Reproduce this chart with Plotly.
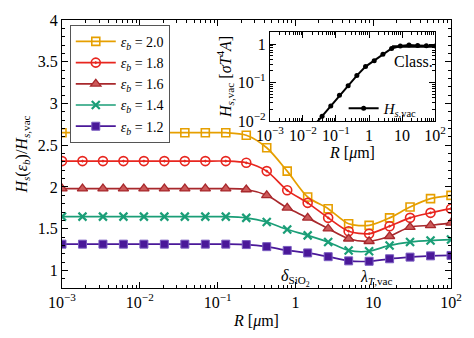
import plotly.graph_objects as go

# Radius grid (micrometres)
R = [0.001, 0.001833, 0.00336, 0.006158, 0.01129, 0.02069, 0.03793, 0.06952,
     0.1274, 0.2336, 0.4281, 0.7848, 1.438, 2.637, 4.833, 8.859, 16.24,
     29.76, 54.56, 100.0]

eps20 = [2.65, 2.65, 2.65, 2.65, 2.65, 2.65, 2.65, 2.65, 2.65, 2.62, 2.47,
         2.19, 1.88, 1.74, 1.56, 1.54, 1.63, 1.76, 1.86, 1.90]
eps18 = [2.31, 2.31, 2.31, 2.31, 2.31, 2.31, 2.31, 2.31, 2.31, 2.29, 2.19,
         1.96, 1.81, 1.63, 1.47, 1.44, 1.53, 1.63, 1.69, 1.74]
eps16 = [1.98, 1.98, 1.98, 1.98, 1.98, 1.98, 1.98, 1.98, 1.98, 1.97, 1.90,
         1.75, 1.63, 1.50, 1.38, 1.35, 1.41, 1.52, 1.54, 1.57]
eps14 = [1.645, 1.645, 1.645, 1.645, 1.645, 1.645, 1.645, 1.645, 1.645, 1.63,
         1.58, 1.49, 1.42, 1.34, 1.24, 1.23, 1.30, 1.34, 1.36, 1.37]
eps12 = [1.315, 1.315, 1.315, 1.315, 1.315, 1.315, 1.315, 1.315, 1.315, 1.31,
         1.285, 1.24, 1.21, 1.165, 1.115, 1.11, 1.14, 1.16, 1.175, 1.18]

# Inset: vacuum heat flux
R_inset = R[5:]
hvac = [0.0072, 0.0133, 0.0246, 0.0465, 0.083, 0.152, 0.26, 0.37, 0.55,
        0.77, 0.90, 0.95, 0.93, 0.91, 0.90]
R_class = [5.0, 100.0]
h_class = [0.87, 0.87]

labels = ["2.0", "1.8", "1.6", "1.4", "1.2"]
x_tickvals = [1e-3, 1e-2, 1e-1, 1, 10, 100]
x_ticktext = ["10<sup>−3</sup>", "10<sup>−2</sup>", "10<sup>−1</sup>", "1", "10", "10<sup>2</sup>"]
y_tickvals = [1, 1.5, 2, 2.5, 3, 3.5, 4]
y_ticktext = ["1", "1.5", "2", "2.5", "3", "3.5", "4"]
yi_tickvals = [0.01, 0.1, 1]
yi_ticktext = ["10<sup>−2</sup>", "10<sup>−1</sup>", "1"]

FONT = "Liberation Serif"

styles = [
    dict(color="#e69f00", marker=dict(symbol="square-open", size=8, color="#e69f00",
                                       line=dict(width=1.6, color="#e69f00"))),
    dict(color="#e8261f", marker=dict(symbol="circle-open-dot", size=9, color="#e8261f",
                                       line=dict(width=1.6, color="#e8261f"))),
    dict(color="#a8282c", marker=dict(symbol="triangle-up", size=9, color="#cc5a5a",
                                       line=dict(width=1.3, color="#a8282c"))),
    dict(color="#1a9e77", marker=dict(symbol="x-thin", size=8, color="#1a9e77",
                                       line=dict(width=2.2, color="#1a9e77"))),
    dict(color="#4a1899", marker=dict(symbol="square", size=8, color="#4a1899",
                                       line=dict(width=1, color="#7a5cc0"))),
]

fig = go.Figure()
for ys, lab, st in zip([eps20, eps18, eps16, eps14, eps12], labels, styles):
    fig.add_trace(go.Scatter(
        x=R, y=ys, mode="lines+markers",
        name="<i>ε</i><sub><i>b</i></sub> = " + lab,
        line=dict(color=st["color"], width=1.7, shape="spline", smoothing=0.8),
        marker=st["marker"], xaxis="x", yaxis="y", legend="legend",
    ))

fig.add_trace(go.Scatter(
    x=R_inset, y=hvac, mode="lines+markers",
    name="<i>H</i><sub><i>s</i>,vac</sub>",
    line=dict(color="black", width=2),
    marker=dict(symbol="circle", size=5, color="black"),
    xaxis="x2", yaxis="y2", legend="legend2",
))
fig.add_trace(go.Scatter(
    x=R_class, y=h_class, mode="lines", showlegend=False,
    line=dict(color="black", width=2.5),
    xaxis="x2", yaxis="y2",
))

axis_common = dict(
    showline=True, linecolor="black", linewidth=1, mirror="ticks",
    ticks="inside", ticklen=6, tickcolor="black", showgrid=False, zeroline=False,
    tickfont=dict(family=FONT, size=16, color="black"),
)

fig.update_layout(
    width=474, height=338,
    margin=dict(l=62, r=21, t=15, b=46),
    paper_bgcolor="white", plot_bgcolor="white",
    font=dict(family=FONT, size=16, color="black"),
    xaxis=dict(type="log", range=[-3, 2], tickvals=x_tickvals, ticktext=x_ticktext,
               domain=[0, 1],
               title=dict(text="<i>R</i> [<i>μ</i>m]", standoff=4,
                          font=dict(family=FONT, size=16)),
               minor=dict(ticks="inside", ticklen=3, tickcolor="black",
                          tickvals=[m * 10 ** e for e in range(-3, 2) for m in range(2, 10)]),
               **axis_common),
    yaxis=dict(range=[0.79, 4.0], tickvals=y_tickvals, ticktext=y_ticktext,
               domain=[0, 1],
               title=dict(text="<i>H</i><sub><i>s</i></sub>(<i>ε</i><sub><i>b</i></sub>)/<i>H</i><sub><i>s</i>,vac</sub>",
                          standoff=6, font=dict(family=FONT, size=16)),
               minor=dict(ticks="inside", ticklen=3, tickcolor="black", dtick=0.1),
               **axis_common),
    xaxis2=dict(type="log", range=[-3, 2], tickvals=x_tickvals, ticktext=x_ticktext,
                domain=[0.5345, 0.959], anchor="y2",
                title=dict(text="<i>R</i> [<i>μ</i>m]", standoff=2,
                           font=dict(family=FONT, size=16)),
                minor=dict(ticks="inside", ticklen=3, tickcolor="black",
                           tickvals=[m * 10 ** e for e in range(-3, 2) for m in range(2, 10)]),
                **axis_common),
    yaxis2=dict(type="log", range=[-2, 0.32], tickvals=yi_tickvals, ticktext=yi_ticktext,
                domain=[0.6235, 0.9556], anchor="x2",
                title=dict(text="<i>H</i><sub><i>s</i>,vac</sub> [<i>σT</i><sup>4</sup><i>A</i>]",
                           standoff=2, font=dict(family=FONT, size=16)),
                minor=dict(ticks="inside", ticklen=3, tickcolor="black",
                           tickvals=[m * 10 ** e for e in range(-2, 1) for m in range(2, 10)]),
                **axis_common),
    legend=dict(x=0.02, y=0.982, xanchor="left", yanchor="top",
                bgcolor="white", bordercolor="#555555", borderwidth=1,
                font=dict(family=FONT, size=14), itemwidth=40, tracegroupgap=0),
    legend2=dict(x=0.724, y=0.67, xanchor="left", yanchor="middle",
                 bgcolor="rgba(0,0,0,0)", borderwidth=0,
                 font=dict(family=FONT, size=15), itemwidth=30),
    annotations=[
        dict(x=-0.21, y=0.91, xref="x", yref="y", text="<i>δ</i><sub>SiO<sub>2</sub></sub>",
             showarrow=False, xanchor="left", yanchor="middle",
             font=dict(family=FONT, size=16)),
        dict(x=0.81, y=0.91, xref="x", yref="y", text="<i>λ</i><sub><i>T</i>,vac</sub>",
             showarrow=False, xanchor="left", yanchor="middle",
             font=dict(family=FONT, size=16)),
        dict(x=2, y=-0.45, xref="x2", yref="y2", text="Class.",
             showarrow=False, xanchor="right", yanchor="middle",
             font=dict(family=FONT, size=16)),
    ],
)

fig.write_html("out.html")
